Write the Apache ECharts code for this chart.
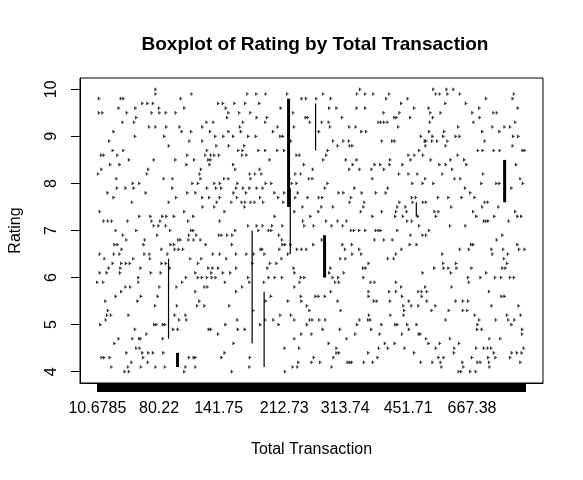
<!DOCTYPE html>
<html>
<head>
<meta charset="utf-8">
<script src="https://cdn.jsdelivr.net/npm/echarts@6/dist/echarts.min.js"></script>
<style>html,body{margin:0;padding:0;background:#fff}#chart{width:583px;height:480px}</style>
</head>
<body>
<div id="chart"></div>
<script>
// Number of Total Transaction categories (sorted ranks 0..999)
const categoryCount = 1000;
// Tick labels shown on the x axis and the rank of the category they belong to
const tickRanks = [0, 144, 283, 436, 578, 725, 874];
const tickLabels = ['10.6785', '80.22', '141.75', '212.73', '313.74', '451.71', '667.38'];
// Y axis ticks
const ratingTicks = [4, 5, 6, 7, 8, 9, 10];

// Single-observation categories: [rating, [category ranks having that rating]]
const ratingRows = [
  [10.0, [136, 613, 784, 815, 831]],
  [9.9, [136, 220, 350, 371, 393, 443, 527, 606, 625, 644, 681, 790, 799, 817, 846, 972]],
  [9.8, [4, 55, 61, 195, 477, 487, 511, 545, 674, 724, 907, 969]],
  [9.7, [105, 117, 130, 282, 293, 320, 345, 378, 709, 812, 860]],
  [9.6, [50, 89, 144, 203, 300, 428, 541, 558, 605, 625, 739, 773, 891, 981]],
  [9.5, [4, 12, 69, 127, 145, 160, 183, 306, 331, 357, 457, 668, 705, 777, 801, 875, 924, 932]],
  [9.4, [91, 303, 372, 396, 486, 491, 571, 693, 698, 730, 783, 892]],
  [9.3, [59, 86, 255, 271, 340, 392, 496, 524, 540, 656, 662, 669, 677, 776, 878, 975]],
  [9.2, [121, 136, 161, 192, 245, 333, 421, 459, 543, 588, 603, 702, 842, 922, 950, 963]],
  [9.1, [38, 197, 219, 263, 306, 335, 410, 517, 616, 627, 774, 809, 898, 938]],
  [9.0, [88, 156, 275, 294, 317, 352, 370, 427, 433, 755, 782, 807, 836, 845, 970, 982]],
  [8.9, [28, 215, 245, 452, 550, 574, 587, 664, 688, 694, 764, 767, 781, 793, 817, 904]],
  [8.8, [167, 278, 307, 343, 561, 589, 595, 766, 813, 969]],
  [8.7, [36, 61, 256, 329, 339, 376, 392, 420, 436, 538, 751, 888, 899, 925, 939, 992, 997]],
  [8.6, [9, 15, 47, 210, 252, 265, 273, 284, 338, 348, 465, 472, 534, 726, 740, 760, 841]],
  [8.5, [74, 132, 182, 226, 259, 264, 402, 527, 580, 605, 683, 731, 778, 824, 856]],
  [8.4, [30, 52, 208, 262, 317, 482, 596, 647, 660, 682, 712, 798, 813, 861, 977]],
  [8.3, [10, 119, 242, 322, 379, 503, 588, 612, 640, 669, 828]],
  [8.2, [2, 116, 239, 356, 368, 383, 462, 475, 704, 726, 747, 805, 900]],
  [8.1, [45, 155, 176, 241, 296, 306, 358, 449, 494, 502, 642, 765, 834, 847, 987]],
  [8.0, [83, 98, 222, 235, 273, 286, 327, 393, 406, 454, 465, 537, 735, 759, 784, 896, 931, 938, 993]],
  [7.9, [46, 66, 85, 175, 256, 277, 289, 324, 340, 355, 372, 386, 531, 600, 678, 858, 966]],
  [7.8, [24, 113, 210, 229, 318, 347, 413, 436, 468, 563, 574, 617, 650, 673, 870]],
  [7.7, [38, 184, 245, 261, 286, 326, 380, 422, 462, 491, 517, 525, 592, 734, 743, 795, 819, 850, 880]],
  [7.6, [81, 167, 279, 313, 337, 345, 358, 367, 387, 434, 589, 623, 705, 736, 760, 767, 904, 911]],
  [7.5, [246, 273, 344, 479, 523, 550, 621, 700, 719, 826, 898, 936]],
  [7.4, [6, 203, 297, 460, 516, 615, 664, 697, 722, 787, 796, 877, 975]],
  [7.3, [98, 124, 152, 161, 179, 224, 414, 497, 642, 695, 713, 748, 790, 884, 926, 980, 989]],
  [7.2, [15, 25, 34, 71, 127, 147, 212, 286, 480, 534, 561, 582, 723, 734, 902, 907, 912, 960]],
  [7.1, [132, 143, 160, 352, 372, 386, 408, 432, 483, 505, 547, 573, 751, 823, 859]],
  [7.0, [43, 91, 170, 219, 224, 322, 376, 400, 406, 592, 599, 611, 625, 650, 656, 661, 700, 774]],
  [6.9, [60, 140, 214, 231, 284, 290, 303, 315, 424, 731, 759, 767, 945]],
  [6.8, [68, 111, 189, 194, 213, 225, 241, 431, 524, 647, 669, 689, 932]],
  [6.7, [40, 47, 108, 171, 179, 253, 314, 432, 438, 451, 504, 572, 594, 729, 745, 872, 877, 980]],
  [6.6, [57, 150, 181, 190, 200, 381, 385, 425, 466, 477, 488, 578, 611, 710, 846, 867, 920, 947, 984, 997]],
  [6.5, [6, 39, 52, 110, 122, 164, 270, 286, 324, 348, 365, 390, 445, 595, 616, 697, 805, 922, 958]],
  [6.4, [17, 84, 123, 217, 243, 301, 430, 567, 579, 678, 692, 949]],
  [6.3, [36, 56, 67, 76, 150, 160, 235, 362, 403, 418, 633, 807, 837, 956]],
  [6.2, [27, 54, 101, 169, 259, 269, 282, 324, 397, 458, 544, 620, 626, 786, 808, 819, 838, 873, 945, 952]],
  [6.1, [6, 22, 53, 125, 148, 229, 266, 293, 310, 460, 541, 575, 759, 825, 907]],
  [6.0, [96, 207, 235, 244, 256, 267, 276, 352, 400, 414, 431, 475, 483, 549, 562, 621, 865, 894, 928, 942, 963, 972]],
  [5.9, [0, 14, 96, 198, 298, 355, 389, 472, 555, 564, 638, 647, 697, 867]],
  [5.8, [66, 77, 145, 185, 250, 257, 338, 460, 709, 765, 827]],
  [5.7, [56, 229, 324, 545, 633, 681, 697, 749, 757, 769, 914]],
  [5.6, [43, 102, 141, 405, 475, 509, 516, 531, 633, 711, 757, 943, 950]],
  [5.5, [19, 94, 238, 393, 445, 476, 561, 645, 652, 683, 727, 769, 836, 853, 865]],
  [5.4, [135, 186, 233, 250, 308, 489, 714, 733, 749, 789, 920, 983]],
  [5.3, [25, 364, 495, 568, 716, 780, 820, 853, 863]],
  [5.2, [23, 32, 73, 181, 206, 427, 452, 634, 684, 715, 881, 956, 988]],
  [5.1, [20, 191, 208, 327, 392, 411, 460, 496, 502, 518, 532, 612, 632, 637, 813, 891, 930, 959, 973]],
  [5.0, [7, 133, 138, 153, 158, 299, 380, 423, 489, 606, 663, 695, 700, 723, 745, 887, 966]],
  [4.9, [88, 177, 188, 260, 265, 328, 344, 526, 566, 639, 727, 886, 897, 991]],
  [4.8, [115, 282, 476, 500, 602, 659, 711, 750, 754, 991]],
  [4.7, [50, 82, 98, 101, 153, 460, 582, 767, 823, 915, 940]],
  [4.6, [40, 318, 540, 671, 694, 773, 799, 844]],
  [4.5, [91, 99, 437, 471, 558, 657, 678, 717, 790, 833, 884, 902, 911, 919, 995]],
  [4.4, [68, 105, 119, 130, 154, 297, 558, 564, 632, 739, 832, 925, 967, 979, 990]],
  [4.3, [10, 16, 29, 107, 214, 225, 229, 290, 356, 505, 551, 654, 796, 808, 874, 912, 929, 963]],
  [4.2, [80, 118, 469, 500, 520, 584, 589, 594, 622, 643, 755, 782, 801, 852, 887, 894, 914, 987]],
  [4.1, [33, 72, 102, 136, 158, 206, 229, 355, 456, 467, 547, 803, 854, 915]],
  [4.0, [64, 74, 203, 314, 438, 843, 849, 870, 883]]
];

// Categories with several observations: [rank, lowest rating, highest rating]
const boxes = [
  [166, 4.7, 6.4],
  [361, 4.6, 7.0],
  [389, 4.1, 5.7],
  [450, 6.5, 7.9],
  [509, 8.7, 9.7],
  [744, 7.3, 7.6]
];
// Groups of adjacent multi-observation categories (drawn as one bar)
const boxClusters = [
  [187, 4.1, 4.4],
  [446, 7.5, 9.8],
  [530, 6.0, 6.9],
  [950, 7.6, 8.5]
];

// R pads the x range by 4% on each side
const pad = Math.round(categoryCount * 0.04);
const axisCategories = [];
for (let i = 0; i < categoryCount + 2 * pad; i++) axisCategories.push(String(i - pad));
const labelByIndex = {};
tickRanks.forEach((r, k) => { labelByIndex[r + pad] = tickLabels[k]; });

const pointData = [];
ratingRows.forEach(([rating, ranks]) => {
  ranks.forEach(r => pointData.push([r + pad, rating]));
});
const toBar = list => list.map(b => [b[0] + pad, b[1], b[2]]);

const FONT = '"Liberation Sans", Arial, Helvetica, sans-serif';

function barRenderer(width) {
  return function (params, api) {
    const x = api.value(0);
    const lo = api.coord([x, api.value(1)]);
    const hi = api.coord([x, api.value(2)]);
    return {
      type: 'rect',
      shape: { x: lo[0] - width / 2, y: hi[1], width: width, height: lo[1] - hi[1] },
      style: { fill: '#000' }
    };
  };
}

const chart = echarts.init(document.getElementById('chart'), null, { renderer: 'canvas' });
chart.setOption({
  animation: false,
  backgroundColor: '#fff',
  title: {
    text: 'Boxplot of Rating by Total Transaction',
    left: 310,
    textAlign: 'center',
    top: 30,
    textStyle: { fontFamily: FONT, fontSize: 19, fontWeight: 'bold', color: '#000' }
  },
  grid: {
    left: 78, top: 78, width: 465, height: 305,
    show: true, borderColor: '#000', borderWidth: 1, backgroundColor: 'transparent',
    containLabel: false
  },
  xAxis: {
    type: 'category',
    data: axisCategories,
    boundaryGap: true,
    axisLine: { show: true, lineStyle: { color: '#000', width: 1 } },
    axisTick: {
      show: true, alignWithLabel: true, length: 9,
      interval: (idx) => idx >= pad && idx < pad + categoryCount,
      lineStyle: { color: '#000', width: 1 }
    },
    axisLabel: {
      interval: (idx) => labelByIndex[idx] !== undefined,
      formatter: (val, idx) => labelByIndex[idx] || '',
      margin: 18, fontSize: 16, color: '#000', fontFamily: FONT
    },
    splitLine: { show: false },
    name: 'Total Transaction',
    nameLocation: 'middle',
    nameGap: 59,
    nameTextStyle: { fontSize: 16, color: '#000', fontFamily: FONT }
  },
  yAxis: {
    type: 'value',
    min: 3.76, max: 10.24,
    axisLine: { show: true, lineStyle: { color: '#000', width: 1 } },
    axisTick: { show: true, length: 9, customValues: ratingTicks, lineStyle: { color: '#000', width: 1 } },
    axisLabel: { customValues: ratingTicks, rotate: 90, margin: 20, fontSize: 16, color: '#000', fontFamily: FONT },
    splitLine: { show: false },
    name: 'Rating',
    nameLocation: 'middle',
    nameRotate: 90,
    nameGap: 56,
    nameTextStyle: { fontSize: 16, color: '#000', fontFamily: FONT }
  },
  series: [
    {
      type: 'scatter',
      name: 'single',
      data: pointData,
      symbol: 'path://M0,0L1,0L1,3L0,3ZM1,1L2,1L2,2L1,2Z',
      symbolSize: [2.6, 3.2],
      itemStyle: { color: '#000' },
      silent: true
    },
    {
      type: 'custom',
      name: 'boxes',
      data: toBar(boxes),
      encode: { x: 0, y: [1, 2] },
      renderItem: barRenderer(1.2),
      silent: true
    },
    {
      type: 'custom',
      name: 'boxClusters',
      data: toBar(boxClusters),
      encode: { x: 0, y: [1, 2] },
      renderItem: barRenderer(3),
      silent: true
    }
  ]
});
</script>
</body>
</html>
